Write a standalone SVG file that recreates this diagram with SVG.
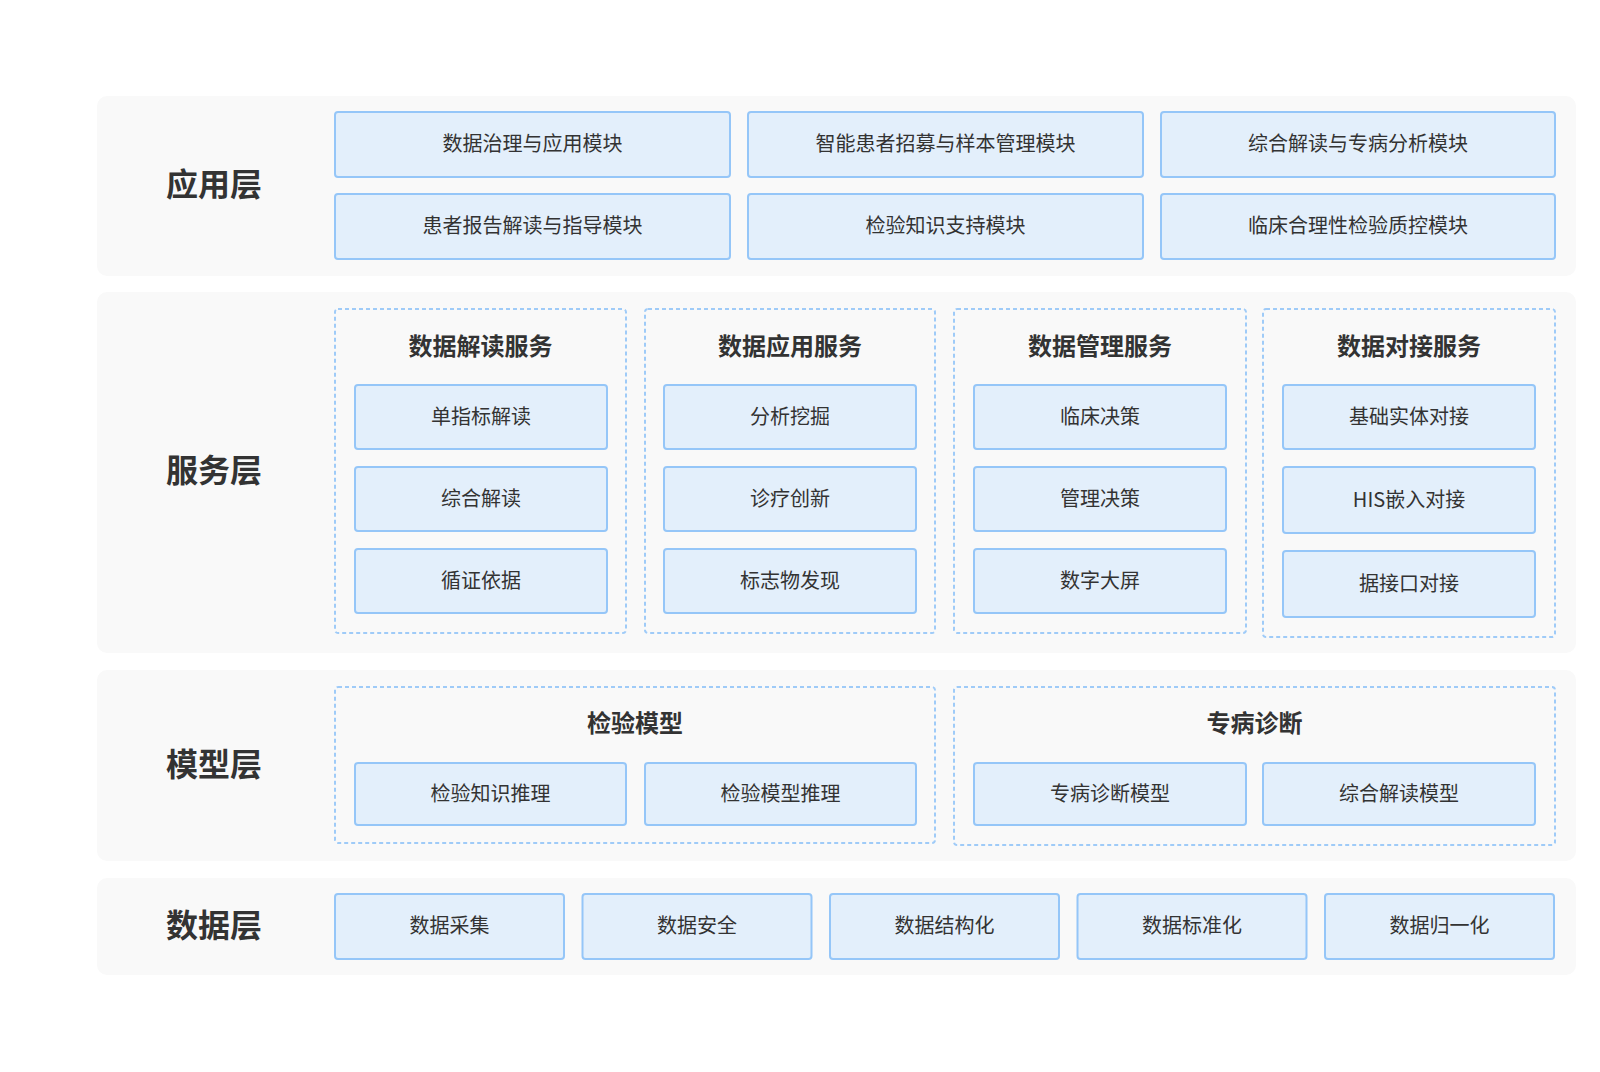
<svg xmlns="http://www.w3.org/2000/svg" width="1600" height="1072" viewBox="0 0 1600 1072">
<style>
text{font-family:"Noto Sans CJK SC","Noto Sans",sans-serif;fill:#333;text-anchor:middle;dominant-baseline:central}
.panel{fill:#f9f9f9}
.box{fill:#e3effb;stroke:#95c6f8;stroke-width:2}
.grp{fill:none;stroke:#9fcbf8;stroke-width:2;stroke-dasharray:4 3}
.layer{font-size:32px;font-weight:700}
.title{font-size:24px;font-weight:700}
.t{font-size:20px}
</style>
<rect width="1600" height="1072" fill="#ffffff"/>
<g id="layer-app">
<rect class="panel" x="97" y="96" width="1479" height="180" rx="10"/>
<text class="layer" x="214" y="182">应用层</text>
</g>
<g id="app-1"><rect class="box" x="335" y="112" width="395" height="65" rx="3"/><text class="t" x="532.5" y="142.5">数据治理与应用模块</text></g>
<g id="app-2"><rect class="box" x="748" y="112" width="395" height="65" rx="3"/><text class="t" x="945.5" y="142.5">智能患者招募与样本管理模块</text></g>
<g id="app-3"><rect class="box" x="1161" y="112" width="394" height="65" rx="3"/><text class="t" x="1358" y="142.5">综合解读与专病分析模块</text></g>
<g id="app-4"><rect class="box" x="335" y="194" width="395" height="65" rx="3"/><text class="t" x="532.5" y="224.5">患者报告解读与指导模块</text></g>
<g id="app-5"><rect class="box" x="748" y="194" width="395" height="65" rx="3"/><text class="t" x="945.5" y="224.5">检验知识支持模块</text></g>
<g id="app-6"><rect class="box" x="1161" y="194" width="394" height="65" rx="3"/><text class="t" x="1358" y="224.5">临床合理性检验质控模块</text></g>

<g id="layer-service">
<rect class="panel" x="97" y="292" width="1479" height="361" rx="10"/>
<text class="layer" x="214" y="468">服务层</text>
</g>
<g id="svc-group-1">
<rect class="grp" x="335" y="309" width="291" height="324" rx="3"/>
<text class="title" x="480.5" y="344">数据解读服务</text>
</g>
<g id="svc-1-1"><rect class="box" x="355" y="385" width="252" height="64" rx="3"/><text class="t" x="481" y="415">单指标解读</text></g>
<g id="svc-1-2"><rect class="box" x="355" y="467" width="252" height="64" rx="3"/><text class="t" x="481" y="497">综合解读</text></g>
<g id="svc-1-3"><rect class="box" x="355" y="549" width="252" height="64" rx="3"/><text class="t" x="481" y="579">循证依据</text></g>
<g id="svc-group-2">
<rect class="grp" x="645" y="309" width="290" height="324" rx="3"/>
<text class="title" x="790" y="344">数据应用服务</text>
</g>
<g id="svc-2-1"><rect class="box" x="664" y="385" width="252" height="64" rx="3"/><text class="t" x="790" y="415">分析挖掘</text></g>
<g id="svc-2-2"><rect class="box" x="664" y="467" width="252" height="64" rx="3"/><text class="t" x="790" y="497">诊疗创新</text></g>
<g id="svc-2-3"><rect class="box" x="664" y="549" width="252" height="64" rx="3"/><text class="t" x="790" y="579">标志物发现</text></g>
<g id="svc-group-3">
<rect class="grp" x="954" y="309" width="292" height="324" rx="3"/>
<text class="title" x="1100" y="344">数据管理服务</text>
</g>
<g id="svc-3-1"><rect class="box" x="974" y="385" width="252" height="64" rx="3"/><text class="t" x="1100" y="415">临床决策</text></g>
<g id="svc-3-2"><rect class="box" x="974" y="467" width="252" height="64" rx="3"/><text class="t" x="1100" y="497">管理决策</text></g>
<g id="svc-3-3"><rect class="box" x="974" y="549" width="252" height="64" rx="3"/><text class="t" x="1100" y="579">数字大屏</text></g>
<g id="svc-group-4">
<rect class="grp" x="1263" y="309" width="292" height="328" rx="3"/>
<text class="title" x="1409" y="344">数据对接服务</text>
</g>
<g id="svc-4-1"><rect class="box" x="1283" y="385" width="252" height="64" rx="3"/><text class="t" x="1409" y="415">基础实体对接</text></g>
<g id="svc-4-2"><rect class="box" x="1283" y="467" width="252" height="66" rx="3"/><text class="t" x="1409" y="498">HIS嵌入对接</text></g>
<g id="svc-4-3"><rect class="box" x="1283" y="551" width="252" height="66" rx="3"/><text class="t" x="1409" y="582">据接口对接</text></g>

<g id="layer-model">
<rect class="panel" x="97" y="670" width="1479" height="191" rx="10"/>
<text class="layer" x="214" y="762">模型层</text>
</g>
<g id="model-group-1">
<rect class="grp" x="335" y="687" width="600" height="156" rx="3"/>
<text class="title" x="635" y="721">检验模型</text>
</g>
<g id="model-1-1"><rect class="box" x="355" y="763" width="271" height="62" rx="3"/><text class="t" x="490.5" y="792">检验知识推理</text></g>
<g id="model-1-2"><rect class="box" x="645" y="763" width="271" height="62" rx="3"/><text class="t" x="780.5" y="792">检验模型推理</text></g>
<g id="model-group-2">
<rect class="grp" x="954" y="687" width="601" height="158" rx="3"/>
<text class="title" x="1254.5" y="721">专病诊断</text>
</g>
<g id="model-2-1"><rect class="box" x="974" y="763" width="272" height="62" rx="3"/><text class="t" x="1110" y="792">专病诊断模型</text></g>
<g id="model-2-2"><rect class="box" x="1263" y="763" width="272" height="62" rx="3"/><text class="t" x="1399" y="792">综合解读模型</text></g>

<g id="layer-data">
<rect class="panel" x="97" y="878" width="1479" height="97" rx="10"/>
<text class="layer" x="214" y="923">数据层</text>
</g>
<g id="data-1"><rect class="box" x="335" y="894" width="229" height="65" rx="3"/><text class="t" x="449.5" y="924.5">数据采集</text></g>
<g id="data-2"><rect class="box" x="582.5" y="894" width="229" height="65" rx="3"/><text class="t" x="697" y="924.5">数据安全</text></g>
<g id="data-3"><rect class="box" x="830" y="894" width="229" height="65" rx="3"/><text class="t" x="944.5" y="924.5">数据结构化</text></g>
<g id="data-4"><rect class="box" x="1077.5" y="894" width="229" height="65" rx="3"/><text class="t" x="1192" y="924.5">数据标准化</text></g>
<g id="data-5"><rect class="box" x="1325" y="894" width="229" height="65" rx="3"/><text class="t" x="1439.5" y="924.5">数据归一化</text></g>
<g id="connectors"></g>
</svg>
